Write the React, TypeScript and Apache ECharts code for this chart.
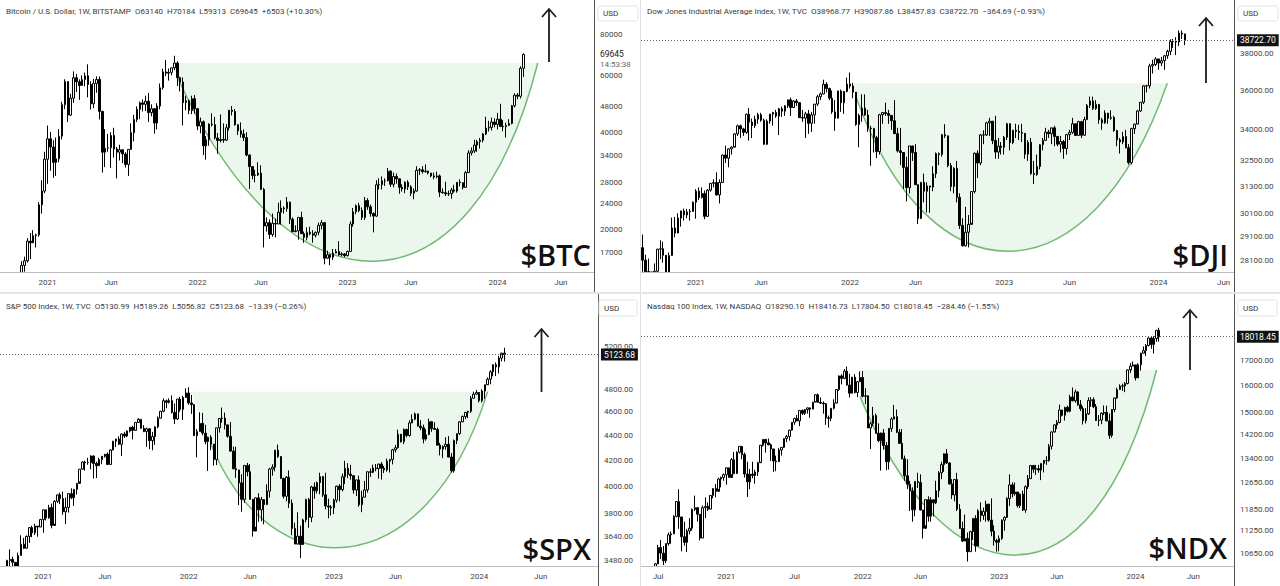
import React, { useEffect, useRef } from 'react';
import * as echarts from 'echarts';

const FONT = 'Roboto, "Noto Sans", sans-serif';
const LAST_WEEK = '2024-03-04';

// ---------------- BTC (weekly, from 2020-10-26) ----------------
const btcFirstOpen = 13030;
const btcClose = [13800, 15480, 16000, 18400, 18180, 19150, 19250, 23850, 26300, 33000,
  38150, 36000, 32260, 33100, 38900, 48700, 57400, 45200, 51000, 59000, 57300, 55800, 58200, 59800, 56200, 49000, 56600, 58250, 46400, 34700, 35700, 35800, 39100, 35500, 34700, 35300, 34250, 31800, 35400, 39900, 43800, 47100, 49300, 48800, 49900, 46000, 47300, 42700, 48200, 54900, 61500, 60900, 61300, 63300, 65500, 59000, 57200, 49400, 50100, 46700, 50800, 47300,
  41800, 43100, 36300, 37900, 42400, 42200, 38400, 37700, 38000, 37800, 41300, 46800, 46400, 42200, 40400, 39500, 38500, 34000, 31300, 29400, 29500, 29900, 26600, 20500, 21000, 19300, 20900, 20800, 22600, 23300, 23200, 24300, 21500, 19700, 19800, 21800, 19400, 18900, 19600, 19400, 19200, 19600, 20600, 21000, 16300, 16700, 16400, 16900, 17100, 16700, 16800, 16600,
  17100, 20800, 22700, 23700, 22900, 21800, 24600, 23500, 22400, 22000, 27500, 27500, 28300, 28300, 30300, 27600, 29200, 28700, 27000, 26700, 28000, 27100, 25900, 26300, 30500, 30600, 30200, 30300, 29900, 29300, 29100, 29300, 26100, 26000, 25800, 25800, 26500, 26300, 28000, 27900, 27000, 30000, 34500, 35000, 36500, 37400, 37800, 39500, 41200, 41400, 43000, 42300,
  43900, 41700, 41600, 42000, 42600, 48300, 52100, 51700, 63100, 69645];
const btcHigh = [14100, 15960, 16480, 18800, 19500, 19900, 19400, 24300, 28400, 34800,
  41950, 40100, 37800, 38500, 40900, 49700, 58350, 57500, 52600, 61700, 60600, 58300, 60000, 61200, 64900, 57500, 58500, 59600, 59500, 46600, 40900, 39500, 40000, 41300, 36000, 36600, 35100, 34700, 35400, 42600, 45300, 48100, 49800, 50500, 51900, 52900, 48800, 47300, 49200, 56600, 62900, 67000, 63000, 63300, 69000, 66300, 59400, 59100, 51900, 50500, 51900, 52100,
  47500, 44400, 43500, 38900, 42600, 45800, 44600, 39800, 45400, 42600, 42400, 46900, 48200, 47200, 41500, 42900, 40800, 40000, 34200, 31400, 30600, 32300, 31600, 26900, 21800, 21500, 22400, 21600, 24200, 24600, 23600, 25200, 24400, 21800, 20600, 21800, 22700, 19700, 20300, 20400, 19900, 19700, 21000, 21400, 21000, 17200, 16800, 17400, 17400, 18400, 17000, 16900,
  17200, 21200, 23300, 23900, 24200, 23400, 25200, 25000, 23900, 22600, 28400, 28800, 29200, 28800, 31000, 30500, 30000, 29800, 28800, 27600, 28200, 28400, 27400, 26800, 31400, 31000, 31400, 31800, 30400, 29900, 30000, 30200, 29600, 26800, 28100, 26400, 26900, 27500, 28000, 28600, 28000, 30300, 35200, 35900, 37900, 37900, 38400, 39800, 44700, 43400, 44400, 44200,
  45900, 49000, 43600, 42800, 43900, 48600, 52800, 52900, 64000, 70184];
const btcLow = [12900, 13200, 14800, 15800, 16200, 18300, 17600, 19000, 22400, 25900,
  27700, 30400, 28900, 29300, 32300, 38000, 47100, 43000, 44900, 49300, 53300, 50400, 55800, 55500, 51300, 47000, 47500, 53000, 43800, 30000, 31200, 34800, 31000, 33400, 28800, 32700, 32100, 31100, 29300, 35300, 37500, 43000, 43900, 46400, 46500, 43000, 44800, 39600, 40800, 47100, 54200, 59700, 57800, 60000, 62300, 55600, 53500, 42000, 46800, 45500, 45500, 45700,
  40600, 39700, 34000, 32900, 36300, 41700, 38000, 34300, 37200, 37100, 37600, 40500, 45100, 41900, 39200, 38500, 37600, 33700, 26700, 28600, 28000, 29300, 26600, 17600, 19700, 18700, 19000, 18900, 20800, 20700, 22400, 22700, 20800, 19600, 19600, 18600, 19400, 18200, 18500, 19200, 18200, 18900, 19200, 20000, 15600, 16200, 15500, 16100, 16900, 16600, 16500, 16400,
  16500, 17100, 20400, 22300, 22600, 21400, 21400, 23000, 21900, 19600, 21900, 26600, 26600, 27300, 28200, 27100, 27000, 27700, 25800, 26200, 25900, 26500, 25400, 24800, 26200, 29500, 29800, 30000, 29600, 29000, 28600, 28800, 25200, 25800, 25400, 25400, 24900, 26000, 26000, 27200, 26600, 26900, 29900, 33900, 34500, 34800, 35600, 37200, 39200, 40200, 40500, 41400,
  40800, 41500, 40300, 38500, 41800, 42300, 47700, 50600, 50900, 59313];

// ---------------- DJI (weekly, from 2020-08-31) ----------------
const djiFirstOpen = 28650;
const djiClose = [28133, 27666, 27657, 27174, 27683, 28587, 28606, 28336, 26502, 28323, 29480, 29263, 29910, 30218, 30046, 30179, 30200, 30606,
  31098, 30814, 30997, 29983, 31148, 31458, 31494, 30932, 31496, 32779, 32628, 33072, 33153, 33800, 34200, 34043, 33875, 34778, 34382, 34208, 34529, 34756, 34480, 33290, 34433, 34786, 34870, 34687, 35061, 34935, 35208, 35515, 35120, 35455, 35369, 34608, 34584, 34798, 34326, 34746, 35295, 35677, 35820, 36328, 36100, 35602, 34899, 34580, 35971, 35365, 35950, 36338,
  36231, 35912, 34265, 34725, 35089, 34738, 34079, 34059, 33615, 32944, 34755, 34862, 34818, 34721, 34451, 33811, 32977, 32899, 32197, 31262, 33213, 32900, 31393, 29888, 31501, 31097, 31338, 31288, 31899, 32845, 32803, 33761, 33706, 32283, 31318, 32151, 30822, 29590, 28726, 29297, 29635, 31083, 32862, 32403, 33748, 33746, 34347, 34430, 33476, 32920, 33204, 33147,
  33631, 34303, 33375, 33978, 33926, 33869, 33827, 32817, 33391, 31910, 31862, 32238, 33274, 33485, 33886, 33809, 34098, 33674, 33300, 33427, 33093, 33762, 33876, 34299, 33727, 34408, 33734, 34509, 35228, 35459, 35066, 35281, 34500, 34346, 34838, 34577, 34618, 33964, 33508, 33407, 33670, 33127, 32418, 34061, 34283, 34947, 35390, 36245, 36248, 37305, 37385, 37690,
  37466, 37593, 37863, 38109, 38654, 38671, 38628, 39131, 39087, 38722.70];
const djiHigh = [29200, 28360, 28200, 27660, 28000, 28600, 28960, 28900, 28200, 28450, 29930, 29960, 30120, 30230, 30320, 30310, 30300, 30640,
  31190, 31270, 31270, 31130, 31200, 31470, 31640, 31960, 31640, 32800, 33230, 33100, 33200, 33830, 34260, 34260, 34100, 34810, 35090, 34560, 34700, 34850, 34850, 34560, 34520, 34800, 34900, 35000, 35100, 35170, 35250, 35520, 35630, 35500, 35560, 35380, 35000, 34900, 35000, 34900, 35300, 35770, 35900, 36570, 36440, 36150, 36000, 35500, 36000, 36050, 35970, 36680,
  36950, 36400, 35800, 34800, 35800, 35800, 35000, 34200, 34100, 33700, 34800, 34900, 35370, 35000, 34700, 35500, 34100, 34100, 32900, 32700, 33220, 33200, 33300, 31300, 31520, 31900, 31500, 31300, 32250, 32900, 32900, 33800, 34280, 33700, 32400, 32200, 32500, 31000, 29900, 30400, 30040, 31100, 32900, 33000, 33800, 33980, 34400, 34600, 34400, 34700, 33600, 33400,
  33700, 34350, 34300, 34000, 34300, 34250, 34300, 33800, 33500, 33600, 32500, 32800, 33300, 33600, 34100, 34000, 34100, 34200, 33700, 33700, 33500, 33800, 34000, 34600, 34300, 34450, 34450, 34650, 35300, 35680, 35680, 35500, 35300, 34600, 34980, 34800, 34980, 34700, 34000, 33600, 33900, 34000, 33300, 34100, 34300, 35000, 35400, 36280, 36300, 37430, 37640, 37780,
  37700, 37800, 37900, 38200, 38780, 38800, 38900, 39280, 39280, 39087.86];
const djiLow = [27660, 27040, 27500, 26540, 27000, 27600, 28180, 28030, 26140, 26280, 28500, 29080, 29270, 29540, 29800, 29900, 29800, 30250,
  29880, 30700, 30770, 29860, 30000, 31080, 31270, 30900, 30550, 31500, 32400, 32200, 32800, 33200, 33700, 33600, 33700, 33800, 33470, 33600, 34100, 34300, 34400, 33270, 33270, 34300, 34200, 34600, 33740, 34650, 34700, 35100, 34690, 35100, 35200, 34600, 34400, 33600, 33800, 33900, 34300, 35200, 35500, 35800, 35900, 35500, 34800, 33950, 34700, 34900, 34800, 35900,
  36100, 35600, 34200, 33150, 34400, 34700, 33900, 32270, 32900, 32630, 32800, 34300, 34700, 34300, 34000, 33800, 32900, 32300, 31200, 30640, 31000, 32500, 31380, 29650, 29950, 30600, 30150, 30140, 31100, 31700, 32300, 32700, 33600, 32200, 31100, 31000, 30600, 29440, 28700, 28700, 28660, 29700, 31000, 31700, 32300, 33300, 33700, 33700, 33300, 32600, 32600, 32800,
  32800, 33500, 33000, 33300, 33600, 33500, 33400, 32600, 32500, 31850, 31430, 31800, 32100, 33000, 33500, 33600, 33300, 33200, 33200, 32900, 32600, 32800, 33500, 33800, 33700, 33700, 33600, 33700, 34500, 35100, 35000, 35000, 34300, 34000, 34300, 34300, 34500, 33900, 33200, 32850, 33300, 33100, 32330, 32330, 33800, 34300, 34900, 35300, 35900, 36100, 36900, 37300,
  37100, 37300, 37100, 37700, 37900, 38300, 37900, 38400, 38800, 38457.83];

// ---------------- SPX (weekly, from 2020-09-21) ----------------
const spxFirstOpen = 3320;
const spxClose = [3298, 3348, 3477, 3484, 3465, 3270, 3510, 3585, 3558, 3638, 3699, 3663, 3709, 3703, 3756,
  3825, 3768, 3841, 3714, 3887, 3934, 3907, 3811, 3842, 3943, 3913, 3975, 4020, 4129, 4185, 4180, 4181, 4233, 4174, 4156, 4204, 4230, 4247, 4166, 4281, 4352, 4370, 4327, 4412, 4395, 4437, 4468, 4442, 4509, 4535, 4459, 4433, 4455, 4357, 4391, 4471, 4545, 4605, 4697, 4683, 4698, 4595, 4538, 4712, 4621, 4726, 4766,
  4677, 4663, 4398, 4432, 4501, 4419, 4349, 4385, 4329, 4204, 4463, 4543, 4546, 4488, 4393, 4272, 4132, 4123, 4024, 3901, 4158, 4109, 3901, 3675, 3912, 3825, 3899, 3863, 3962, 4130, 4145, 4280, 4228, 4058, 3924, 4067, 3873, 3693, 3586, 3640, 3583, 3753, 3901, 3771, 3993, 3965, 4026, 4072, 3934, 3852, 3845, 3840,
  3895, 3999, 3973, 4071, 4136, 4090, 4079, 3970, 4046, 3862, 3917, 3971, 4109, 4105, 4138, 4133, 4169, 4136, 4124, 4192, 4205, 4282, 4299, 4410, 4348, 4450, 4399, 4505, 4536, 4582, 4478, 4464, 4370, 4406, 4515, 4457, 4450, 4320, 4288, 4309, 4327, 4224, 4117, 4358, 4415, 4514, 4559, 4595, 4604, 4719, 4755, 4770,
  4697, 4784, 4840, 4891, 4959, 5027, 5006, 5089, 5137, 5123.68];
const spxHigh = [3330, 3397, 3482, 3550, 3502, 3464, 3529, 3646, 3628, 3645, 3701, 3712, 3726, 3711, 3760,
  3826, 3823, 3861, 3870, 3894, 3937, 3950, 3958, 3914, 3944, 3983, 3978, 4020, 4129, 4191, 4195, 4218, 4238, 4236, 4188, 4219, 4233, 4249, 4261, 4287, 4355, 4372, 4393, 4415, 4430, 4441, 4469, 4480, 4509, 4546, 4536, 4486, 4465, 4457, 4429, 4475, 4560, 4608, 4718, 4707, 4718, 4744, 4672, 4713, 4731, 4740, 4808,
  4818, 4749, 4632, 4453, 4595, 4590, 4489, 4390, 4402, 4327, 4465, 4546, 4637, 4593, 4471, 4513, 4308, 4307, 4081, 4090, 4158, 4178, 4168, 3838, 3913, 3946, 3919, 3880, 4013, 4140, 4167, 4280, 4325, 4203, 4062, 4076, 4119, 3900, 3733, 3807, 3712, 3762, 3905, 3911, 4002, 4028, 4034, 4101, 4052, 4101, 3906, 3859,
  3906, 4003, 4015, 4095, 4195, 4176, 4163, 4073, 4049, 4079, 3965, 4039, 4110, 4134, 4164, 4170, 4171, 4184, 4154, 4212, 4210, 4290, 4322, 4448, 4400, 4458, 4456, 4527, 4578, 4594, 4584, 4528, 4491, 4452, 4541, 4518, 4511, 4466, 4338, 4318, 4385, 4394, 4256, 4366, 4416, 4521, 4568, 4596, 4609, 4739, 4778, 4793,
  4755, 4798, 4842, 4907, 4975, 5030, 5048, 5111, 5140, 5189.26];
const spxLow = [3209, 3280, 3360, 3440, 3424, 3233, 3280, 3512, 3554, 3560, 3594, 3633, 3647, 3636, 3704,
  3663, 3749, 3760, 3694, 3725, 3874, 3866, 3789, 3723, 3805, 3902, 3853, 3937, 4035, 4125, 4118, 4164, 4128, 4057, 4061, 4156, 4168, 4220, 4165, 4165, 4278, 4305, 4321, 4233, 4379, 4385, 4424, 4367, 4445, 4513, 4457, 4427, 4306, 4288, 4279, 4322, 4460, 4544, 4595, 4631, 4672, 4585, 4495, 4531, 4600, 4531, 4733,
  4662, 4582, 4395, 4222, 4431, 4401, 4327, 4115, 4279, 4157, 4161, 4424, 4506, 4450, 4381, 4267, 4129, 4062, 3859, 3811, 3875, 4074, 3900, 3637, 3705, 3739, 3743, 3722, 3860, 3913, 4079, 4112, 4218, 4057, 3907, 3887, 3838, 3647, 3585, 3584, 3492, 3590, 3735, 3698, 3737, 3906, 3944, 3939, 3919, 3828, 3764, 3784,
  3794, 3877, 3885, 3960, 4015, 4060, 4048, 3943, 3925, 3847, 3808, 3917, 3951, 4069, 4099, 4113, 4056, 4049, 4099, 4110, 4103, 4166, 4261, 4292, 4341, 4328, 4385, 4390, 4503, 4527, 4474, 4443, 4335, 4356, 4403, 4430, 4447, 4317, 4238, 4216, 4283, 4223, 4104, 4103, 4329, 4405, 4511, 4537, 4546, 4591, 4718, 4751,
  4682, 4682, 4714, 4844, 4845, 4918, 4920, 4946, 5058, 5056.82];

// ---------------- NDX (weekly, from 2020-06-01) ----------------
const ndxFirstOpen = 9600;
const ndxClose = [9825, 9589, 9947, 9850, 10380, 10800, 10655, 10460, 10905, 11139, 11164, 11649, 12075, 11632, 11088, 10937, 11244, 11319, 11850, 11897, 11710, 11052, 11895, 11937, 11855, 12258, 12465, 12378, 12756, 12804, 12888,
  13105, 12803, 13366, 12925, 13612, 13808, 13535, 12909, 12668, 12906, 12867, 12975, 13270, 13846, 14042, 13925, 13861, 13720, 13324, 13303, 13686, 13773, 14069, 14140, 14361, 14639, 14776, 14687, 15067, 14960, 15096, 15159, 15115, 15374, 15652, 15364, 15335, 15312, 14799, 14780, 15146, 15336, 15850, 16382, 16285, 16573, 16025, 15712, 16334, 15739, 16153, 16320,
  15593, 15611, 14438, 14589, 14878, 14253, 14000, 14261, 13837, 13302, 14421, 14755, 14838, 14289, 13907, 13394, 12855, 12595, 12387, 11835, 12682, 12644, 11830, 11315, 12131, 11653, 12126, 12038, 12395, 12947, 13208, 13560, 13262, 12605, 12272, 12739, 11854, 11311, 10971, 11039, 10692, 11224, 11591, 10840, 11806, 11677, 11785, 12000, 11544, 11236, 10985, 10939,
  11040, 11541, 11619, 12167, 12573, 12305, 12358, 11956, 12296, 11830, 12520, 12768, 13181, 13062, 13080, 13037, 13246, 13340, 13340, 13810, 14298, 14547, 14634, 15083, 14891, 15180, 15037, 15565, 15421, 15757, 15274, 15133, 14694, 14941, 15432, 15462, 15202, 14701, 14715, 14964, 14996, 14688, 14180, 15099, 15529, 15847, 15983, 15990, 16085, 16623, 16778, 16826,
  16305, 16833, 17314, 17421, 17642, 17962, 17685, 17937, 18302, 18018.45];
const ndxHigh = [9850, 10100, 10120, 10200, 10400, 10870, 11000, 10840, 10910, 11200, 11230, 11680, 12080, 12440, 11600, 11500, 11300, 11600, 11870, 12250, 11900, 11700, 11960, 12200, 12050, 12260, 12470, 12600, 12790, 12830, 12930,
  13120, 13080, 13420, 13620, 13640, 13810, 13800, 13600, 13300, 13070, 13300, 13040, 13300, 13850, 14050, 14000, 14070, 13900, 13700, 13500, 13750, 13780, 14080, 14200, 14380, 14640, 14800, 14900, 15070, 15100, 15120, 15170, 15180, 15380, 15660, 15700, 15550, 15400, 15330, 14880, 15150, 15480, 15860, 16400, 16450, 16660, 16760, 16470, 16340, 16450, 16180, 16560,
  16580, 15900, 15450, 14650, 15200, 14950, 14600, 14280, 14400, 13950, 14440, 14820, 15270, 15100, 14400, 14400, 13500, 13380, 12700, 12500, 12690, 12950, 12900, 11700, 12140, 12230, 12200, 12100, 12700, 13000, 13300, 13570, 13720, 13280, 12750, 12750, 12950, 12000, 11500, 11700, 11200, 11250, 11600, 11680, 11850, 12050, 11900, 12100, 11900, 12170, 11400, 11030,
  11120, 11560, 11650, 12200, 12900, 12650, 12650, 12300, 12310, 12400, 12560, 12880, 13190, 13200, 13200, 13200, 13250, 13360, 13480, 13890, 14320, 14560, 14720, 15280, 15000, 15200, 15240, 15650, 15930, 15850, 15790, 15450, 15220, 15150, 15550, 15560, 15550, 15300, 14900, 14990, 15250, 15240, 14950, 15120, 15540, 15920, 16050, 16080, 16140, 16650, 16900, 16970,
  16800, 16900, 17330, 17600, 17700, 17990, 18040, 18040, 18320, 18416.73];
const ndxLow = [9550, 9400, 9430, 9800, 9820, 10500, 10500, 10350, 10400, 10850, 10900, 11170, 11620, 11300, 10700, 10850, 10680, 11150, 11250, 11800, 11500, 10990, 11050, 11600, 11800, 11850, 12170, 12200, 12450, 12500, 12700,
  12580, 12800, 12900, 12900, 12950, 13570, 13380, 12800, 12210, 12440, 12780, 12610, 12850, 13300, 13800, 13600, 13840, 13330, 12980, 13000, 13300, 13500, 13750, 13950, 14000, 14350, 14550, 14680, 14500, 14900, 14900, 14950, 14800, 15130, 15400, 15360, 15300, 14950, 14550, 14450, 14680, 15100, 15350, 15800, 16050, 16250, 16000, 15550, 15700, 15700, 15560, 16150,
  15550, 15300, 14430, 13720, 14500, 14250, 13950, 13020, 13700, 13030, 13050, 14300, 14750, 14260, 13900, 13380, 12700, 12450, 11800, 11500, 11650, 12480, 11820, 11040, 11400, 11500, 11500, 11650, 12000, 12200, 12750, 12980, 13230, 12580, 12150, 12080, 11800, 11300, 10950, 10980, 10440, 10700, 11000, 10690, 10900, 11500, 11550, 11500, 11500, 11100, 10850, 10690,
  10700, 11000, 11250, 11600, 11950, 12200, 12250, 11900, 11890, 11800, 11750, 12450, 12750, 12950, 12880, 12950, 12720, 12960, 13200, 13300, 13700, 14280, 14400, 14600, 14850, 14700, 14990, 15000, 15400, 15350, 15240, 15040, 14560, 14600, 14900, 15200, 15150, 14690, 14500, 14570, 14900, 14680, 14060, 14100, 15000, 15500, 15850, 15800, 15750, 16050, 16500, 16780,
  16200, 16300, 16600, 17300, 17200, 17600, 17500, 17300, 17800, 17804.50];

// ---------------- axis ticks & labels ----------------
const btcTicks = [17000, 20000, 24000, 28000, 34000, 40000, 48000, 60000, 80000];
const djiTicks = [28100, 29100, 30100, 31300, 32500, 34000, 36000, 38000];
const spxTicks = [3480, 3640, 3800, 4000, 4200, 4400, 4600, 4800, 5200];
const ndxTicks = [10650, 11250, 11850, 12650, 13400, 14200, 15000, 16000, 17000];

const stdXLabels: [string, string][] = [
  ['2021-01-04', '2021'], ['2021-06-07', 'Jun'], ['2022-01-03', '2022'], ['2022-06-06', 'Jun'],
  ['2023-01-02', '2023'], ['2023-06-05', 'Jun'], ['2024-01-01', '2024'], ['2024-06-03', 'Jun'],
];
const ndxXLabels: [string, string][] = [
  ['2020-07-06', 'Jul'], ['2021-01-04', '2021'], ['2021-07-05', 'Jul'], ['2022-01-03', '2022'], ['2022-06-06', 'Jun'],
  ['2023-01-02', '2023'], ['2023-06-05', 'Jun'], ['2024-01-01', '2024'], ['2024-06-03', 'Jun'],
];

// cup drawings: [fill top-left, curve start, control 1, control 2, curve end]
const btcCupDates = ['2021-11-08', '2021-11-15', '2022-08-15', '2023-10-30', '2024-04-08'];
const btcCupPrices = [65530, 59300, 10130, 10130, 65530];
const djiCupDates = ['2022-01-10', '2022-01-17', '2022-07-11', '2023-07-24', '2024-01-22'];
const djiCupPrices = [36380, 35680, 26360, 26360, 36380];
const spxCupDates = ['2022-01-10', '2022-02-28', '2022-07-25', '2023-08-21', '2024-01-22'];
const spxCupPrices = [4778, 4330, 3289, 3289, 4778];
const ndxCupDates = ['2021-12-27', '2021-12-27', '2022-08-08', '2023-09-04', '2024-02-26'];
const ndxCupPrices = [16620, 15580, 9510, 8950, 16620];

const btcTitle = 'Bitcoin / U.S. Dollar, 1W, BITSTAMP\u2002O63140\u2002H70184\u2002L59313\u2002C69645\u2002+6503 (+10.30%)';
const djiTitle = 'Dow Jones Industrial Average Index, 1W, TVC\u2002O38968.77\u2002H39087.86\u2002L38457.83\u2002C38722.70\u2002\u2212364.69 (\u22120.93%)';
const spxTitle = 'S&P 500 Index, 1W, TVC\u2002O5130.99\u2002H5189.26\u2002L5056.82\u2002C5123.68\u2002\u221213.39 (\u22120.26%)';
const ndxTitle = 'Nasdaq 100 Index, 1W, NASDAQ\u2002O18290.10\u2002H18416.73\u2002L17804.50\u2002C18018.45\u2002\u2212284.46 (\u22121.55%)';

// ---------------- helpers ----------------
const DAY = 86400000;
const toTime = (s: string) => Date.parse(s + 'T00:00:00Z');
const weekIdx = (start: string, d: string) => Math.round((toTime(d) - toTime(start)) / (7 * DAY));
const makeWeeks = (start: string, n: number) =>
  Array.from({ length: n }, (_, i) => new Date(toTime(start) + i * 7 * DAY).toISOString().slice(0, 10));

function candleRows(axisStart: string, open0: number, close: number[], high: number[], low: number[]) {
  const first = weekIdx(axisStart, LAST_WEEK) - close.length + 1;
  return close.map((c, j) => [first + j, j === 0 ? open0 : close[j - 1], c, low[j], high[j]]);
}

type Panel = {
  axisStart: string; weeks: number; rect: number[]; yMin: number; yMax: number; ticks: number[]; dec: number;
  xLabels: [string, string][]; rows: number[][]; cupDates: string[]; cupPrices: number[]; last: number; lastKind: 'box' | 'plain';
};

const panels: Panel[] = [
  { axisStart: '2020-09-14', weeks: 206, rect: [0, 0, 594, 272], yMin: 14770, yMax: 102660, ticks: btcTicks, dec: 0,
    xLabels: stdXLabels, rows: candleRows('2020-09-14', btcFirstOpen, btcClose, btcHigh, btcLow),
    cupDates: btcCupDates, cupPrices: btcCupPrices, last: btcClose[btcClose.length - 1], lastKind: 'plain' },
  { axisStart: '2020-08-31', weeks: 200, rect: [641, 0, 593, 272], yMin: 27654, yMax: 41060, ticks: djiTicks, dec: 2,
    xLabels: stdXLabels, rows: candleRows('2020-08-31', djiFirstOpen, djiClose, djiHigh, djiLow),
    cupDates: djiCupDates, cupPrices: djiCupPrices, last: djiClose[djiClose.length - 1], lastKind: 'box' },
  { axisStart: '2020-09-21', weeks: 214, rect: [0, 294, 598, 272], yMin: 3441, yMax: 5742, ticks: spxTicks, dec: 2,
    xLabels: stdXLabels, rows: candleRows('2020-09-21', spxFirstOpen, spxClose, spxHigh, spxLow),
    cupDates: spxCupDates, cupPrices: spxCupPrices, last: spxClose[spxClose.length - 1], lastKind: 'box' },
  { axisStart: '2020-05-25', weeks: 226, rect: [641, 294, 593, 272], yMin: 10326, yMax: 19989, ticks: ndxTicks, dec: 2,
    xLabels: ndxXLabels, rows: candleRows('2020-05-25', ndxFirstOpen, ndxClose, ndxHigh, ndxLow),
    cupDates: ndxCupDates, cupPrices: ndxCupPrices, last: ndxClose[ndxClose.length - 1], lastKind: 'box' },
];

const TOP_Z = 20;
function arrow(x: number, top: number, bottom: number) {
  return {
    type: 'group', silent: true, children: [
      { type: 'line', z: TOP_Z, shape: { x1: x, y1: bottom, x2: x, y2: top + 1 }, style: { stroke: '#1c1c1c', lineWidth: 1.8 } },
      { type: 'polyline', z: TOP_Z, shape: { points: [[x - 7, top + 8], [x, top], [x + 7, top + 8]] }, style: { stroke: '#1c1c1c', lineWidth: 1.8, fill: 'none' } },
    ],
  };
}
function header(x: number, y: number, text: string) {
  return { type: 'text', z: TOP_Z, x, y, silent: true, style: { text, fill: '#3a3a3a', font: `8px ${FONT}`, verticalAlign: 'middle' } };
}
function ticker(x: number, y: number, text: string) {
  return { type: 'text', z: TOP_Z, x, y, silent: true, style: { text, fill: '#111', font: `600 29px "Open Sans", "Noto Sans", sans-serif`, align: 'right', verticalAlign: 'middle' } };
}
function usdBox(x: number, y: number, w: number, h: number) {
  return {
    type: 'group', silent: true, children: [
      { type: 'rect', z: TOP_Z, shape: { x, y, width: w, height: h, r: 2 }, style: { fill: '#fff', stroke: '#e3e5ea', lineWidth: 1 } },
      { type: 'text', z: TOP_Z + 1, x: x + 5, y: y + h / 2, style: { text: 'USD', fill: '#333', font: `8px ${FONT}`, verticalAlign: 'middle' } },
    ],
  };
}
// white masks hiding candle wicks that run past a plot's lower edge
function mask(x: number, y: number, w: number, h: number) {
  return { type: 'rect', z: 6, silent: true, shape: { x, y, width: w, height: h }, style: { fill: '#ffffff' } };
}
// price-scale border continued through the time-label row
function scaleEdge(x: number, y1: number, y2: number) {
  return { type: 'line', z: TOP_Z, silent: true, shape: { x1: x, y1, x2: x, y2 }, style: { stroke: '#555', lineWidth: 1 } };
}

function buildOption() {
  const cats = panels.map(p => makeWeeks(p.axisStart, p.weeks));
  const series: any[] = [];
  panels.forEach((p, k) => {
    series.push({
      type: 'custom', xAxisIndex: k, yAxisIndex: k, z: 1, silent: true,
      data: [[weekIdx(p.axisStart, p.cupDates[1]), p.cupPrices[1]]], encode: { x: 0, y: 1 },
      renderItem: (_params: any, api: any) => {
        const pts = p.cupDates.map((d, j) => api.coord([weekIdx(p.axisStart, d), p.cupPrices[j]]));
        const [fl, s, c1, c2, e] = pts;
        const fillPath = `M${fl[0]} ${fl[1]} L${e[0]} ${e[1]} C${c2[0]} ${c2[1]} ${c1[0]} ${c1[1]} ${s[0]} ${s[1]} Z`;
        const linePath = `M${s[0]} ${s[1]} C${c1[0]} ${c1[1]} ${c2[0]} ${c2[1]} ${e[0]} ${e[1]}`;
        return {
          type: 'group', children: [
            { type: 'path', shape: { pathData: fillPath }, style: { fill: 'rgba(76,175,80,0.11)', stroke: null } },
            { type: 'path', shape: { pathData: linePath }, style: { fill: null, stroke: '#72ba74', lineWidth: 1.5 } },
          ],
        };
      },
    });
    const markLine = p.lastKind === 'box'
      ? {
        silent: true, symbol: ['none', 'none'], animation: false,
        lineStyle: { type: [1, 2], color: '#666', width: 1 },
        label: { position: 'end', distance: 3, formatter: p.last.toFixed(2), backgroundColor: '#131313', color: '#fff', padding: [2, 3, 1, 3], fontSize: 8.5, fontFamily: FONT },
        data: [{ yAxis: p.last }],
      }
      : {
        silent: true, symbol: ['none', 'none'], animation: false,
        lineStyle: { color: 'rgba(255,255,255,0)', width: 0 },
        label: {
          show: true, position: 'end', distance: 0, formatter: `{a|${p.last.toFixed(0)}}\n{b|14:53:38}`, backgroundColor: '#fff', padding: [10, 4, 0, 6],
          rich: { a: { fontSize: 8.5, color: '#222', fontFamily: FONT, lineHeight: 10 }, b: { fontSize: 8, color: '#666', fontFamily: FONT, lineHeight: 10 } },
        },
        data: [{ yAxis: p.last }],
      };
    series.push({
      type: 'candlestick', xAxisIndex: k, yAxisIndex: k, z: 3, barWidth: 2, clip: true,
      data: p.rows, encode: { x: 0, y: [1, 2, 3, 4] },
      itemStyle: { color: '#ffffff', color0: '#000000', borderColor: '#000000', borderColor0: '#000000', borderWidth: 1 },
      markLine,
    });
  });

  return {
    animation: false,
    backgroundColor: '#ffffff',
    grid: panels.map(p => ({ left: p.rect[0], top: p.rect[1], width: p.rect[2], height: p.rect[3], containLabel: false })),
    xAxis: panels.map((p, k) => {
      const map = new Map(p.xLabels);
      return {
        type: 'category', gridIndex: k, data: cats[k], boundaryGap: true, z: 10,
        axisLine: { show: true, lineStyle: { color: '#bdbdbd' } }, axisTick: { show: false }, splitLine: { show: false },
        axisLabel: {
          interval: (_i: number, v: string) => map.has(v), formatter: (v: string) => map.get(v) ?? '',
          fontSize: 8, color: '#444', margin: 6, fontFamily: FONT, hideOverlap: false,
        },
      };
    }),
    yAxis: panels.map((p, k) => ({
      type: 'log', gridIndex: k, position: 'right', min: p.yMin, max: p.yMax, logBase: 10, z: 10,
      axisLine: { show: true, lineStyle: { color: '#555' } }, axisTick: { show: false }, splitLine: { show: false },
      axisLabel: { customValues: p.ticks, formatter: (v: number) => Number(v).toFixed(p.dec), fontSize: 8, color: '#444', margin: 6, fontFamily: FONT },
    })),
    series,
    graphic: [
      mask(0, 272.6, 594, 20), mask(641, 272.6, 593, 20), mask(645, 294, 32, 20),
      mask(0, 566.6, 598, 20), mask(641, 566.6, 593, 20),
      { type: 'rect', z: TOP_Z, silent: true, shape: { x: 640, y: 0, width: 1, height: 586 }, style: { fill: '#dcdfe5' } },
      { type: 'rect', z: TOP_Z, silent: true, shape: { x: 0, y: 292, width: 1280, height: 2 }, style: { fill: '#e4e6ea' } },
      scaleEdge(594.5, 272, 292), scaleEdge(1234.5, 272, 292), scaleEdge(598.5, 566, 586), scaleEdge(1234.5, 566, 586),
      header(6, 11, btcTitle), header(647, 11, djiTitle), header(6, 306, spxTitle), header(647, 306, ndxTitle),
      usdBox(598, 6, 40, 15), usdBox(1238, 6, 40, 15), usdBox(599, 300, 38, 16), usdBox(1238, 300, 39, 16),
      arrow(549, 9, 62), arrow(1206, 18, 83), arrow(541.5, 329, 392), arrow(1190, 310, 370),
      ticker(591, 254, '$BTC'), ticker(1228, 254, '$DJI'), ticker(591, 548, '$SPX'), ticker(1227, 547, '$NDX'),
    ],
  };
}

export default function App() {
  const ref = useRef<HTMLDivElement>(null);
  useEffect(() => {
    if (!ref.current) return;
    const chart = echarts.init(ref.current, null, { renderer: 'svg' });
    chart.setOption(buildOption() as any);
    return () => chart.dispose();
  }, []);
  return <div ref={ref} style={{ position: 'fixed', left: 0, top: 0, width: 1280, height: 586, background: '#fff' }} />;
}
